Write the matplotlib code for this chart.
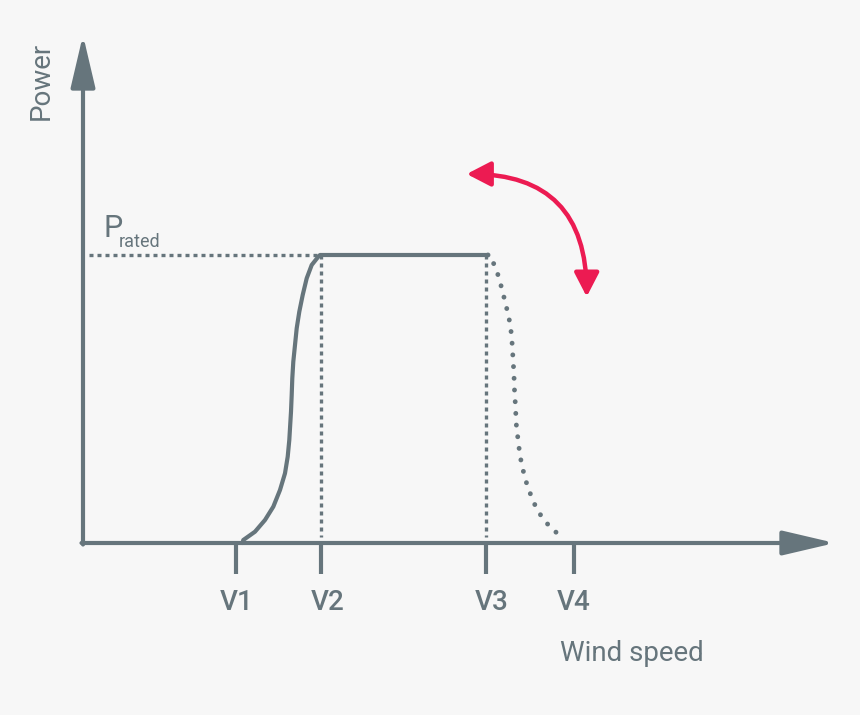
import matplotlib.pyplot as plt

# chart units: x to the right of the y axis, y above the wind-speed axis
grey = "#66757c"
red = "#ec1b52"

speed_names = ["V1", "V2", "V3", "V4"]
speed_pos = [153, 238, 403, 491]
label_pos = [154, 245, 409, 491]
p_rated = 288

# rising part of the curve (V1 -> V2)
rise_x = [159.5, 160.3, 172, 182, 190.3, 197, 202, 204.7, 206.3, 207, 208, 208.7, 209.3, 210.3,
          212, 213.7, 216.3, 219.7, 223.7, 228.7, 235.3, 237]
rise_y = [0, 3, 11.3, 23, 36.3, 53, 69.7, 86.3, 103, 114.7, 131.3, 148, 164.7, 181.3,
          198, 214.7, 231.3, 248, 264.7, 278, 286.3, 288]

# rated plateau (V2 -> V3)
flat_x = [237, 405]
flat_y = [288, 288]

# dotted drop after V3
drop_x = [405, 406.3, 411, 415.3, 418.3, 421, 423.7, 426.3, 428, 429, 429.7, 430.3, 431, 431.3,
          432, 432.7, 433, 434.3, 435.7, 437, 439.3, 442, 445.3, 449.7, 454.3, 460.3, 467.7, 476.3]
drop_y = [288, 288.7, 278.7, 267.3, 256.3, 245.7, 234.7, 223, 212, 201.3, 189.7, 179.7, 168, 156.3,
          144.7, 133, 121.3, 109.7, 98, 87.3, 76.3, 64.7, 54.7, 43, 33, 24, 15.3, 8]

fig = plt.figure(figsize=(8.6, 7.15), dpi=100)
fig.patch.set_facecolor("#f7f7f7")
ax = fig.add_axes([0, 0, 1, 1])
ax.set_xlim(-83, 777)
ax.set_ylim(-172, 543)
ax.axis("off")

lw = 3.0

# axes with arrow heads
arrow = dict(arrowstyle="-|>,head_length=3.2,head_width=0.75", color=grey, lw=lw,
             shrinkA=0, shrinkB=0)
ax.annotate("", xy=(0, 508), xytext=(0, -1.5), arrowprops=arrow)
ax.annotate("", xy=(752, 0), xytext=(-1.5, 0), arrowprops=arrow)

# ticks and labels
ax.vlines(speed_pos, -31, 0, color=grey, lw=lw)
for name, x in zip(speed_names, label_pos):
    ax.text(x, -59, name, ha="center", va="center", fontsize=20, color=grey,
            family="Roboto", fontweight="medium")

# helper dotted lines
dots = dict(color=grey, lw=2.4, linestyle=(0, (1.2, 1.2)), dash_capstyle="butt")
ax.plot([6, 236], [p_rated, p_rated], **dots)
ax.plot([speed_pos[1], speed_pos[1]], [p_rated, 6], **dots)
ax.plot([speed_pos[2], speed_pos[2]], [p_rated, 6], **dots)

# power curve
ax.plot(rise_x, rise_y, color=grey, lw=lw, solid_capstyle="round", solid_joinstyle="round")
ax.plot(flat_x, flat_y, color=grey, lw=lw, solid_capstyle="butt")
ax.plot(drop_x, drop_y, color=grey, lw=3.5, linestyle=(0, (0.01, 2.4)), dash_capstyle="round")

# red double arrow
ax.annotate("", xy=(503.7, 246.3), xytext=(383.7, 369),
            arrowprops=dict(arrowstyle="<|-|>,head_length=1.45,head_width=0.75", color=red,
                            lw=3.2, shrinkA=0, shrinkB=0,
                            connectionstyle="angle3,angleA=0,angleB=90"))

# texts
ax.text(-42, 462, "Power", rotation=90, ha="center", va="center", fontsize=20, color=grey,
        family="Roboto")
ax.text(20, 306, "P", ha="left", va="baseline", fontsize=22, color=grey, family="Roboto")
ax.text(36, 296, "rated", ha="left", va="baseline", fontsize=13, color=grey, family="Roboto")
ax.text(477, -118, "Wind speed", ha="left", va="baseline", fontsize=20, color=grey,
        family="Roboto")

fig.savefig("out.png", dpi=100, facecolor=fig.get_facecolor())
